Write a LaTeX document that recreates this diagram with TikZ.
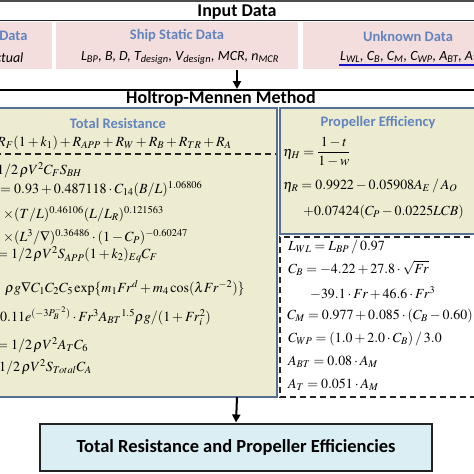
\documentclass[tikz,border=0pt]{standalone}
\usepackage{mathptmx}
\usepackage[no-math]{fontspec}
\setmainfont{Carlito}
\usetikzlibrary{positioning,arrows.meta}

\definecolor{pinkfill}{RGB}{243,222,221}
\definecolor{headblue}{RGB}{98,132,190}
\definecolor{khakifill}{RGB}{238,236,208}
\definecolor{framegray}{RGB}{86,112,148}
\definecolor{resultfill}{RGB}{219,238,244}
\definecolor{linedark}{RGB}{35,35,35}
\definecolor{underblue}{RGB}{20,20,200}

\tikzset{
  maintitle/.style={font=\fontsize{18}{20}\selectfont\bfseries},
  subtitle/.style={font=\fontsize{14.5}{16}\selectfont\bfseries, text=headblue},
  datatext/.style={font=\fontsize{14}{16}\selectfont\itshape},
  eq/.style={anchor=west, inner sep=0pt, font=\fontsize{14}{16}\selectfont},
  eqright/.style={eq, font=\fontsize{13.9}{17}\selectfont},
  dashline/.style={linedark, line width=1.6pt, dash pattern=on 6pt off 4pt},
  flowarrow/.style={-{Triangle[width=8pt,length=8pt]}, line width=2pt, black}
}

\begin{document}
\begin{tikzpicture}[x=1pt,y=-1pt]

    % Frame of the picture (the figure is cut on the left and right)
    \useasboundingbox (0,0) rectangle (474,474);
    \clip (0,0) rectangle (474,474);
    \fill[white] (0,0) rectangle (474,474);

    % Input data block
    \draw[gray!60!black, line width=2pt] (-5,1) -- (480,1);
    \node[maintitle] (inputTitle) at (237,12) {Input Data};
    \draw[linedark, line width=1.2pt] (-5,20.5) -- (480,20.5);

    \fill[pinkfill] (-5,22) rectangle (52,69);
    \fill[pinkfill] (56,22) rectangle (298,69);
    \fill[pinkfill] (303,22) rectangle (480,69);

    \node[subtitle, anchor=east] (opData) at (31,36) {Data};
    \node[datatext, anchor=east] (opActual) at (27,58) {ctual};

    \node[subtitle] (staticData) at (177,36) {Ship Static Data};
    \node[datatext] (staticList) at (180,58)
        {L\textsubscript{BP}, B, D, T\textsubscript{design}, V\textsubscript{design}, MCR, n\textsubscript{MCR}};

    \node[subtitle] (unknownData) at (408,36) {Unknown Data};
    \node[datatext, anchor=west, inner sep=0pt] (unknownList) at (340,57)
        {L\textsubscript{WL}, C\textsubscript{B}, C\textsubscript{M}, C\textsubscript{WP}, A\textsubscript{BT}, A\textsubscript{T}};
    \draw[underblue, line width=1.5pt] (339,65) -- (480,65);

    % Arrow down to the method
    \coordinate (inputEnd) at (237,70);
    \coordinate (methodTop) at (237,89);
    \draw[flowarrow] (inputEnd) -- (methodTop);

    % Holtrop-Mennen block
    \draw[black, line width=1.8pt] (-5,90) -- (480,90);
    \node[maintitle] (methodTitle) at (221,99) {Holtrop-Mennen Method};

    \draw[framegray, line width=1.6pt, fill=khakifill] (-5,108) rectangle (277,397);
    \draw[framegray, line width=1.6pt, fill=khakifill] (280,108) rectangle (480,234);
    \draw[dashline] (480,237) -- (280,237) -- (280,397) -- (480,397);

    % Total resistance
    \node[subtitle] (resTitle) at (118,123) {Total Resistance};
    \node[eq] (rTotal) at (-3,143) {$R_F(1+k_1)+R_{APP}+R_W+R_B+R_{TR}+R_A$};
    \draw[dashline] (-5,154) -- (276,154);
    \node[eq] (rFric) at (-3,170) {$1/2\,\rho V^2C_FS_{BH}$};
    \node[eq] (kOne) at (0,189) {$=0.93+0.487118\cdot C_{14}(B/L)^{1.06806}$};
    \node[eq] (kTwo) at (3,214) {$\times(T/L)^{0.46106}(L/L_R)^{0.121563}$};
    \node[eq] (kThree) at (3,237) {$\times(L^3/\nabla)^{0.36486}\cdot(1-C_P)^{-0.60247}$};
    \node[eq] (rApp) at (-3,255) {$=1/2\,\rho V^2S_{APP}(1+k_2)_{Eq}C_F$};
    \node[eq] (rWave) at (5,288) {$\rho g\nabla C_1C_2C_5\exp\{m_1Fr^d+m_4\cos(\lambda Fr^{-2})\}$};
    \node[eq] (rBulb) at (0,316) {$0.11e^{(-3P_B^{-2})}\cdot Fr^3A_{BT}{}^{1.5}\rho g/(1+Fr_i^2)$};
    \node[eq] (rTrans) at (-3,345) {$=1/2\,\rho V^2A_TC_6$};
    \node[eq] (rCorr) at (-1,367) {$1/2\,\rho V^2S_{Total}C_A$};

    % Propeller efficiency
    \node[subtitle] (propTitle) at (378,123) {Propeller Efficiency};
    \node[eqright] (etaH) at (283,152) {$\eta_H=\displaystyle\frac{1-t}{1-w}$};
    \node[eqright] (etaR) at (283,186) {$\eta_R=0.9922-0.05908A_E\mathbin{/}A_O$};
    \node[eqright] (etaRb) at (303,212) {$+0.07424(C_P-0.0225LCB)$};

    % Estimated unknown data
    \node[eqright] (lWL) at (288,247) {$L_{WL}=L_{BP}\mathbin{/}0.97$};
    \node[eqright] (cB) at (288,268) {$C_B=-4.22+27.8\cdot\sqrt{Fr}$};
    \node[eqright] (cBb) at (310,293) {$-39.1\cdot Fr+46.6\cdot Fr^3$};
    \node[eqright] (cM) at (287,316) {$C_M=0.977+0.085\cdot(C_B-0.60)$};
    \node[eqright] (cWP) at (288,339) {$C_{WP}=(1.0+2.0\cdot C_B)\mathbin{/}3.0$};
    \node[eqright] (aBT) at (288,362) {$A_{BT}=0.08\cdot A_M$};
    \node[eqright] (aT) at (288,385) {$A_T=0.051\cdot A_M$};

    % Result
    \node[draw=linedark, line width=2pt, fill=resultfill, minimum width=392pt, minimum height=47pt,
          font=\fontsize{18.5}{20}\selectfont\bfseries] (result) at (236,447)
        {Total Resistance and Propeller Efficiencies};
    \coordinate (methodEnd) at (237,397);
    \draw[flowarrow] (methodEnd) -- (result.north);

\end{tikzpicture}
\end{document}
